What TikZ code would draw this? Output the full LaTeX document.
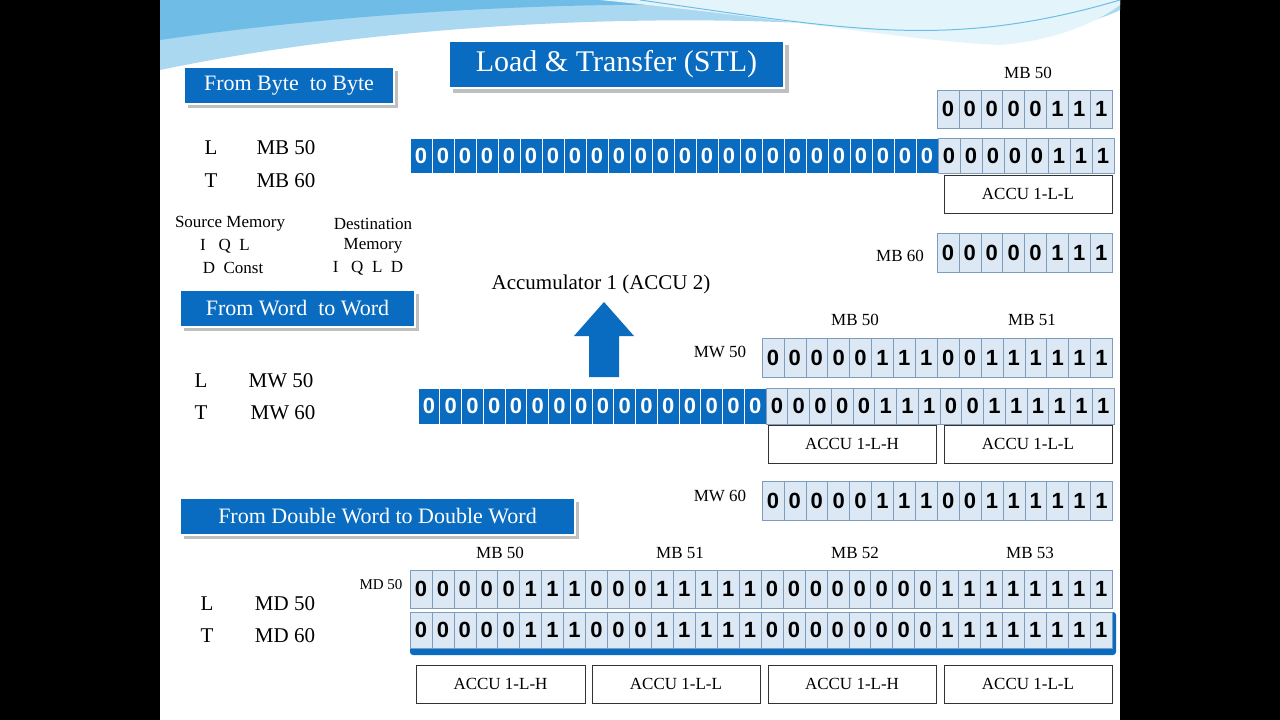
\documentclass[tikz,border=0pt]{standalone}
\usepackage{fontspec}
\setmainfont{Liberation Serif}
\newfontfamily\digfont{Liberation Sans}
\usetikzlibrary{arrows.meta}
\definecolor{sblue}{HTML}{0A6CC0}
\definecolor{lcell}{HTML}{DDE8F5}
\definecolor{lbord}{HTML}{7E9CBE}
\definecolor{hdra}{HTML}{A9D8F0}
\definecolor{hdrb}{HTML}{6FBDE6}
\definecolor{hdrc}{HTML}{E4F4FB}
\tikzset{
  ttl/.style={fill=sblue,draw=white,line width=1.5pt,text=white,inner sep=0pt},
  txt/.style={inner sep=0pt,font=\fontsize{21}{24}\selectfont},
  small/.style={inner sep=0pt,font=\fontsize{17}{20}\selectfont},
  accbox/.style={draw=black!80,line width=0.8pt,fill=white,font=\fontsize{17}{20}\selectfont},
}
% x0, ytop, w, h, bits, nblue
\newcommand\bitrow[6]{%
  \foreach \b [count=\i] in {#5}{%
    \pgfmathsetmacro\xa{#1+(\i-1)*#3}%
    \ifnum\i>#6\relax
      \draw[fill=lcell,draw=lbord,line width=0.6pt] (\xa,#2) rectangle ++(#3,#4);
      \node[text=black,inner sep=0pt,font=\digfont\bfseries\fontsize{22}{24}\selectfont] at (\xa+#3/2,#2+#4/2) {\b};
    \else
      \draw[fill=sblue,draw=white,line width=0.6pt] (\xa,#2) rectangle ++(#3,#4);
      \node[text=white,inner sep=0pt,font=\digfont\bfseries\fontsize{22}{24}\selectfont] at (\xa+#3/2,#2+#4/2) {\b};
    \fi}}
\begin{document}
\begin{tikzpicture}[x=1pt,y=-1pt]
\useasboundingbox (0,0) rectangle (1280,720);
\fill[black] (0,0) rectangle (1280,720);
\fill[white] (160,0) rectangle (1120,720);
% header waves
\fill[hdra] (160,0) -- (160,70) .. controls (400,20) and (700,10) .. (900,30) .. controls (1000,40) and (1080,30) .. (1120,10) -- (1120,0) -- cycle;
\fill[hdrb] (160,0) -- (160,40) .. controls (400,5) and (650,0) .. (780,8) -- (780,0) -- cycle;
\fill[hdrc] (600,0) .. controls (800,20) and (900,40) .. (1000,45) .. controls (1060,40) and (1100,20) .. (1120,5) -- (1120,0) -- cycle;
\draw[hdrb,line width=1pt] (640,0) .. controls (850,30) and (950,50) .. (1120,0);
% titles
\fill[black!25] (453,45) rectangle (789,93);
\node[ttl,minimum width=335pt,minimum height=47pt,font=\fontsize{30}{34}\selectfont] (t0) at (616.5,64.5) {Load \& Transfer (STL)};
\fill[black!25] (188,71) rectangle (398,108);
\node[ttl,minimum width=210pt,minimum height=37pt,font=\fontsize{22}{26}\selectfont] (t1) at (289,85.5) {From Byte\ \ to Byte};
\fill[black!25] (184,294) rectangle (419,331);
\node[ttl,minimum width=235pt,minimum height=37pt,font=\fontsize{22}{26}\selectfont] (t2) at (297.5,308.5) {From Word\ \ to Word};
\fill[black!25] (184,502) rectangle (579,539);
\node[ttl,minimum width=395pt,minimum height=37pt,font=\fontsize{22}{26}\selectfont] (t3) at (377.5,516.5) {From Double Word to Double Word};
% left texts
\node[txt] (l1) at (211,148) {L}; \node[txt] (l1b) at (286,148) {MB 50};
\node[txt] (l2) at (211,181) {T}; \node[txt] (l2b) at (286,181) {MB 60};
\node[small] (s1) at (230,224) {Source Memory};
\node[small] (s2) at (225,246) {I\ \ \ Q\ \ L};
\node[small] (s3) at (233,268) {D\ \ Const};
\node[small] (d1) at (373,224) {Destination};
\node[small] (d2) at (373,246) {Memory};
\node[small] (d3) at (368,268) {I\ \ \ Q\ \ L\ \ D};
\node[txt] (w1) at (201,381) {L}; \node[txt] (w1b) at (281,381) {MW 50};
\node[txt] (w2) at (201,413) {T}; \node[txt] (w2b) at (283,413) {MW 60};
\node[txt] (m1) at (207,604) {L}; \node[txt] (m1b) at (285,604) {MD 50};
\node[txt] (m2) at (207,636) {T}; \node[txt] (m2b) at (285,636) {MD 60};
\node[txt] (acc) at (601,284) {Accumulator 1 (ACCU 2)};
\fill[sblue] (604,302) -- (634,336) -- (619,336) -- (619,377) -- (589,377) -- (589,336) -- (574,336) -- cycle;
% byte section
\node[small] (mb50a) at (1028,73) {MB 50};
\bitrow{937}{90}{21.9}{38}{0,0,0,0,0,1,1,1}{0}
\bitrow{410}{138}{22}{35}{0,0,0,0,0,0,0,0,0,0,0,0,0,0,0,0,0,0,0,0,0,0,0,0,0,0,0,0,0,1,1,1}{24}
\node[accbox,minimum width=168pt,minimum height=38pt] (ab1) at (1028,194) {ACCU 1-L-L};
\node[small] (mb60) at (900,256) {MB 60};
\bitrow{937}{233}{21.9}{39}{0,0,0,0,0,1,1,1}{0}
% word section
\node[small] (wmb50) at (855,320) {MB 50};
\node[small] (wmb51) at (1032,320) {MB 51};
\node[small] (mw50) at (720,352) {MW 50};
\bitrow{762}{338}{21.9}{39}{0,0,0,0,0,1,1,1,0,0,1,1,1,1,1,1}{0}
\bitrow{418}{388}{21.75}{36}{0,0,0,0,0,0,0,0,0,0,0,0,0,0,0,0,0,0,0,0,0,1,1,1,0,0,1,1,1,1,1,1}{16}
\node[accbox,minimum width=168pt,minimum height=38pt] (ab2) at (852,444) {ACCU 1-L-H};
\node[accbox,minimum width=168pt,minimum height=38pt] (ab3) at (1028,444) {ACCU 1-L-L};
\node[small] (mw60) at (720,496) {MW 60};
\bitrow{762}{481}{21.9}{39}{0,0,0,0,0,1,1,1,0,0,1,1,1,1,1,1}{0}
% double word section
\node[small] (d50) at (500,553) {MB 50};
\node[small] (d51) at (680,553) {MB 51};
\node[small] (d52) at (855,553) {MB 52};
\node[small] (d53) at (1030,553) {MB 53};
\node[inner sep=0pt,font=\fontsize{15}{18}\selectfont] (md50) at (381,585) {MD 50};
\bitrow{410}{570}{21.94}{38}{0,0,0,0,0,1,1,1,0,0,0,1,1,1,1,1,0,0,0,0,0,0,0,0,1,1,1,1,1,1,1,1}{0}
\fill[sblue,rounded corners=3pt] (410,612) rectangle (1116,655);
\bitrow{410}{612}{21.94}{36}{0,0,0,0,0,1,1,1,0,0,0,1,1,1,1,1,0,0,0,0,0,0,0,0,1,1,1,1,1,1,1,1}{0}
\node[accbox,minimum width=169pt,minimum height=38pt] (ab4) at (500.5,684) {ACCU 1-L-H};
\node[accbox,minimum width=168pt,minimum height=38pt] (ab5) at (676,684) {ACCU 1-L-L};
\node[accbox,minimum width=168pt,minimum height=38pt] (ab6) at (852,684) {ACCU 1-L-H};
\node[accbox,minimum width=168pt,minimum height=38pt] (ab7) at (1028,684) {ACCU 1-L-L};
\end{tikzpicture}
\end{document}
